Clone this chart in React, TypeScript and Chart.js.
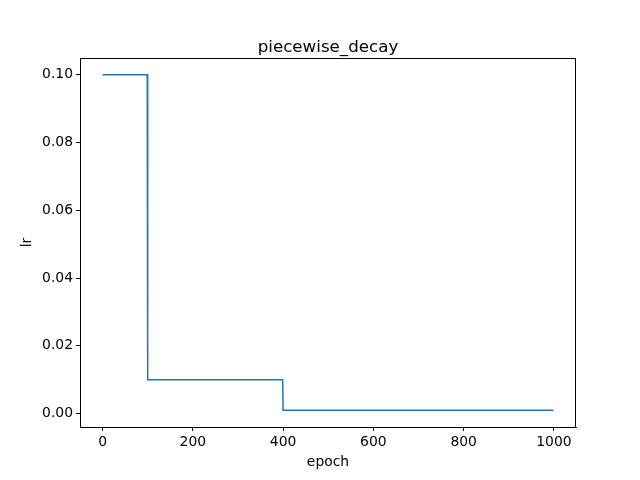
import React, { useEffect, useRef } from "react";
import { Chart, registerables } from "chart.js";

Chart.register(...registerables);

const chartTitle = "piecewise_decay";
const xLabel = "epoch";
const yLabel = "lr";
const epochs = [0, 99, 100, 399, 400, 999];
const lrValues = [0.1, 0.1, 0.01, 0.01, 0.001, 0.001];
const xTicks = [0, 200, 400, 600, 800, 1000];
const yTicks = [0, 0.02, 0.04, 0.06, 0.08, 0.1];

const FONT = "'DejaVu Sans', sans-serif";

const textPlugin = {
  id: "mplText",
  afterDraw(chart: any) {
    const { ctx, chartArea } = chart;
    const { left, right, top, bottom } = chartArea;
    ctx.save();
    ctx.strokeStyle = "#000";
    ctx.lineWidth = 1;
    ctx.strokeRect(Math.round(left) + 0.5, Math.round(top) + 0.5, Math.round(right - left) - 1, Math.round(bottom - top));
    ctx.fillStyle = "#000";
    ctx.textAlign = "center";
    ctx.textBaseline = "alphabetic";
    ctx.font = `16.7px ${FONT}`;
    ctx.fillText(chartTitle, (left + right) / 2, top - 6);
    ctx.font = `13.9px ${FONT}`;
    ctx.textBaseline = "middle";
    ctx.fillText(xLabel, (left + right) / 2, 462);
    ctx.translate(27, (top + bottom) / 2);
    ctx.rotate(-Math.PI / 2);
    ctx.fillText(yLabel, 0, 0);
    ctx.restore();
  },
};

export default function App() {
  const ref = useRef<HTMLCanvasElement | null>(null);
  useEffect(() => {
    if (!ref.current) return;
    const data = epochs.map((x, i) => ({ x, y: lrValues[i] }));
    const chart = new Chart(ref.current, {
      type: "line",
      data: {
        datasets: [
          {
            data,
            borderColor: "#1f77b4",
            borderWidth: 1.5,
            pointRadius: 0,
            fill: false,
            tension: 0,
          },
        ],
      },
      options: {
        animation: false,
        responsive: false,
        layout: { padding: { left: 0, right: 64, top: 58, bottom: 0 } },
        plugins: { legend: { display: false }, tooltip: { enabled: false }, title: { display: false } },
        scales: {
          x: {
            type: "linear",
            min: -49.95,
            max: 1048.95,
            afterBuildTicks: (s: any) => {
              s.ticks = xTicks.map((v) => ({ value: v }));
            },
            afterFit: (s: any) => {
              s.height = 53;
            },
            grid: { display: true, drawOnChartArea: false, drawTicks: true, tickLength: 4, color: "#000", lineWidth: 1 },
            border: { display: true, color: "#000" },
            ticks: {
              color: "#000",
              font: { family: FONT, size: 13.9 },
              padding: 3,
              maxRotation: 0,
              autoSkip: false,
              callback: (v: any) => String(v),
            },
          },
          y: {
            type: "linear",
            min: -0.00395,
            max: 0.10495,
            afterBuildTicks: (s: any) => {
              s.ticks = yTicks.map((v) => ({ value: v }));
            },
            afterFit: (s: any) => {
              s.width = 80;
            },
            grid: { display: true, drawOnChartArea: false, drawTicks: true, tickLength: 4, color: "#000", lineWidth: 1 },
            border: { display: true, color: "#000" },
            ticks: {
              color: "#000",
              font: { family: FONT, size: 13.9 },
              padding: 3,
              autoSkip: false,
              callback: (v: any) => Number(v).toFixed(2),
            },
          },
        },
      },
      plugins: [textPlugin],
    });
    return () => chart.destroy();
  }, []);
  return (
    <div style={{ position: "fixed", left: 0, top: 0, width: 640, height: 480, background: "#fff" }}>
      <canvas ref={ref} width={640} height={480} style={{ width: 640, height: 480 }} />
    </div>
  );
}
